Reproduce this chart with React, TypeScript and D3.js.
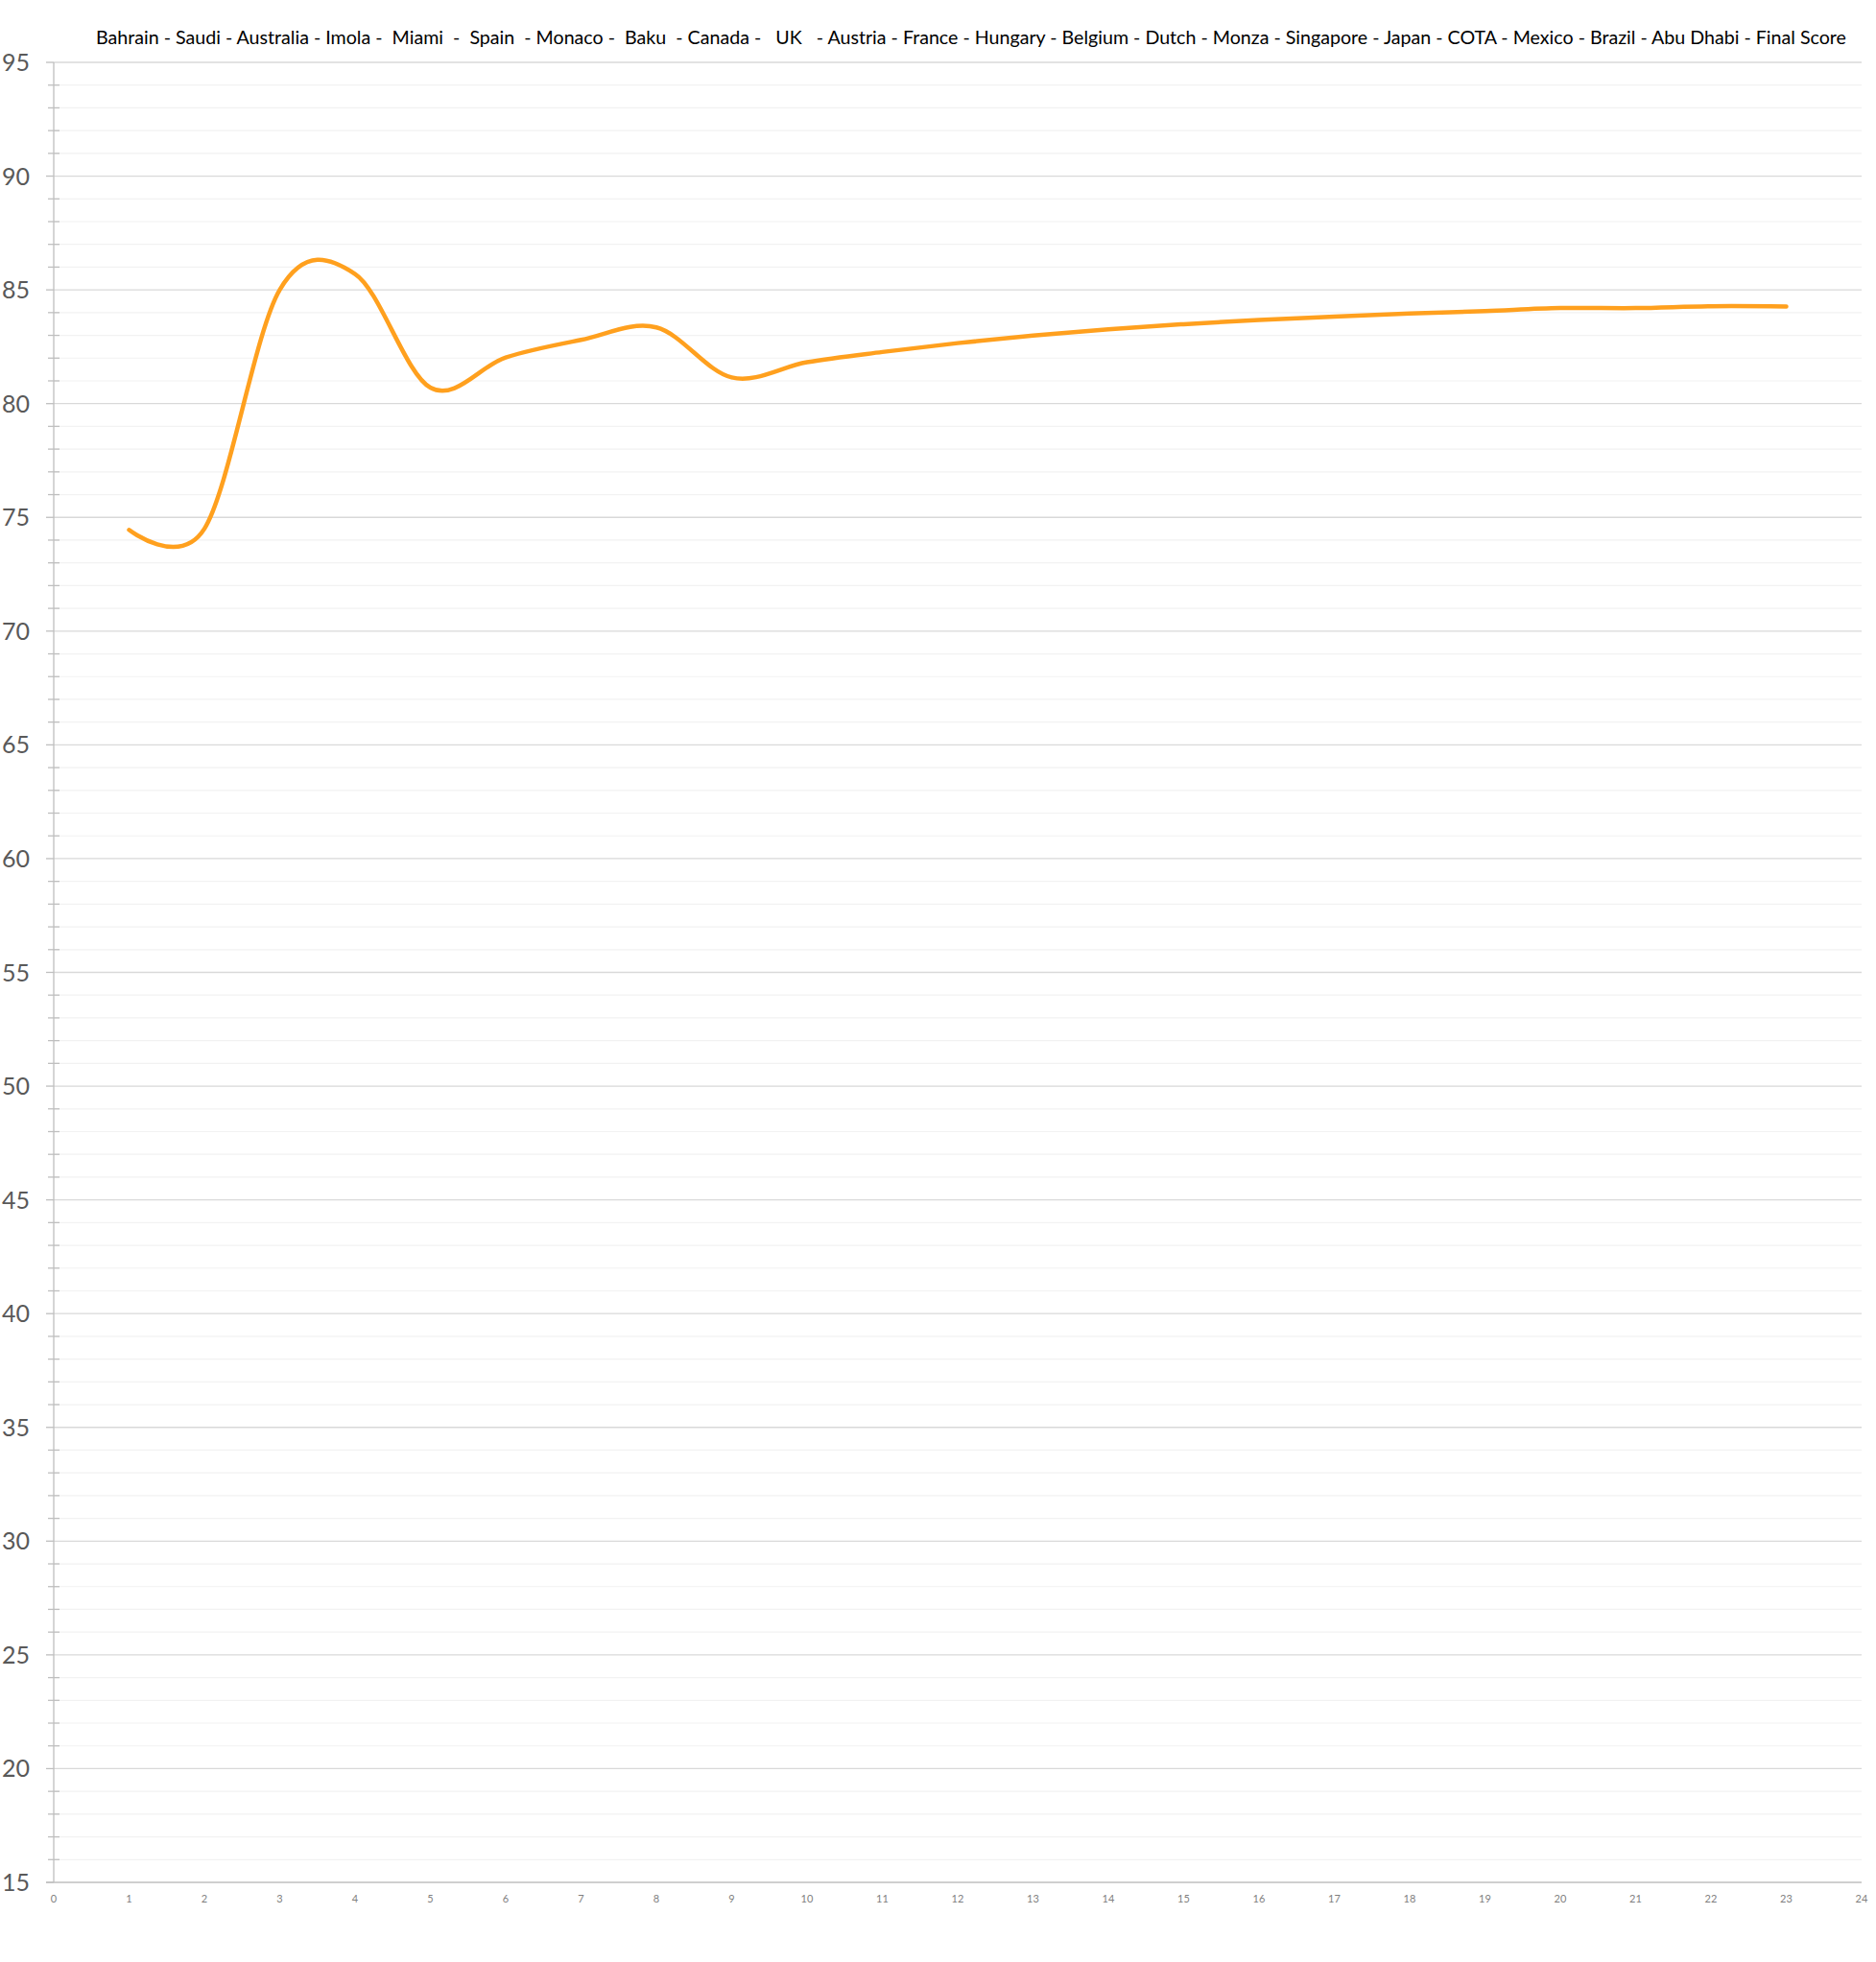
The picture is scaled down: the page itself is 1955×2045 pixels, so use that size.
import { useEffect, useRef } from 'react';
import * as d3 from 'd3';

// race index -> running score
const races = [1, 2, 3, 4, 5, 6, 7, 8, 9, 10, 11, 12, 13, 14, 15, 16, 17, 18, 19, 20, 21, 22, 23];
const scores = [
  74.45, 74.5, 85.0, 85.7, 80.7, 82.03, 82.8, 83.35, 81.15, 81.82, 82.27, 82.66,
  82.99, 83.27, 83.49, 83.68, 83.82, 83.96, 84.07, 84.2, 84.2, 84.28, 84.27,
];
const xTicks = d3.range(0, 25);
const yTicks = [15, 20, 25, 30, 35, 40, 45, 50, 55, 60, 65, 70, 75, 80, 85, 90, 95];
const title =
  'Bahrain - Saudi - Australia - Imola -  Miami  -  Spain  - Monaco -  Baku  - Canada -   UK   - Austria - France - Hungary - Belgium - Dutch - Monza - Singapore - Japan - COTA - Mexico - Brazil - Abu Dhabi - Final Score';

export default function App() {
  const svgRef = useRef<SVGSVGElement>(null);

  useEffect(() => {
    if (!svgRef.current) return;
    const svg = d3.select(svgRef.current);
    svg.selectAll('*').remove();

    const width = 1955;
    const height = 2045;
    const left = 56;
    const right = 1940;
    const top = 65;
    const bottom = 1962;
    const font = 'Lato, "Open Sans", sans-serif';

    svg.attr('width', width).attr('height', height).attr('viewBox', `0 0 ${width} ${height}`);

    const x = d3.scaleLinear().domain([0, 24]).range([left, right]);
    const y = d3.scaleLinear().domain([15, 95]).range([bottom, top]);

    // minor grid (every 1)
    const minor = d3.range(16, 95).filter(v => v % 5 !== 0);
    svg.append('g')
      .selectAll('line')
      .data(minor)
      .enter()
      .append('line')
      .attr('x1', left)
      .attr('x2', right)
      .attr('y1', d => y(d))
      .attr('y2', d => y(d))
      .attr('stroke', '#f2f2f2')
      .attr('stroke-width', 1.2);

    // major grid
    svg.append('g')
      .selectAll('line')
      .data(yTicks.filter(v => v !== 15))
      .enter()
      .append('line')
      .attr('x1', left)
      .attr('x2', right)
      .attr('y1', d => y(d))
      .attr('y2', d => y(d))
      .attr('stroke', '#d9d9d9')
      .attr('stroke-width', 1.3);

    // y axis line + ticks
    svg.append('line')
      .attr('x1', left).attr('x2', left)
      .attr('y1', top).attr('y2', bottom)
      .attr('stroke', '#bfbfbf').attr('stroke-width', 1.3);

    svg.append('g')
      .selectAll('line')
      .data(minor)
      .enter()
      .append('line')
      .attr('x1', left - 6)
      .attr('x2', left + 6)
      .attr('y1', d => y(d))
      .attr('y2', d => y(d))
      .attr('stroke', '#bfbfbf')
      .attr('stroke-width', 1.3);

    svg.append('g')
      .selectAll('line')
      .data(yTicks)
      .enter()
      .append('line')
      .attr('x1', left - 8)
      .attr('x2', left)
      .attr('y1', d => y(d))
      .attr('y2', d => y(d))
      .attr('stroke', '#bfbfbf')
      .attr('stroke-width', 1.3);

    // x axis line
    svg.append('line')
      .attr('x1', left - 8).attr('x2', right)
      .attr('y1', bottom).attr('y2', bottom)
      .attr('stroke', '#bfbfbf').attr('stroke-width', 1.5);

    // y labels
    svg.append('g')
      .selectAll('text')
      .data(yTicks)
      .enter()
      .append('text')
      .attr('x', 31)
      .attr('y', d => y(d))
      .attr('dy', '0.36em')
      .attr('text-anchor', 'end')
      .attr('fill', '#595959')
      .style('font-family', font)
      .style('font-size', '25px')
      .text(d => d);

    // x labels
    svg.append('g')
      .selectAll('text')
      .data(xTicks)
      .enter()
      .append('text')
      .attr('x', d => x(d))
      .attr('y', 1979)
      .attr('dy', '0.36em')
      .attr('text-anchor', 'middle')
      .attr('fill', '#7f7f7f')
      .style('font-family', font)
      .style('font-size', '11px')
      .text(d => d);

    // title - sized so it spans the same width as the original
    const titleText = svg.append('text')
      .attr('x', 100)
      .attr('y', 46)
      .attr('xml:space', 'preserve')
      .attr('fill', '#000')
      .style('white-space', 'pre')
      .style('font-family', font)
      .style('font-size', '20px')
      .text(title);
    const natural = (titleText.node() as SVGTextElement).getComputedTextLength();
    if (natural > 0) {
      titleText.style('font-size', `${Math.min(21, (20 * 1825) / natural).toFixed(2)}px`);
    }

    // score line
    const line = d3.line<number>()
      .x((_, i) => x(races[i]))
      .y(d => y(d))
      .curve(d3.curveCardinal.tension(0));

    svg.append('path')
      .datum(scores)
      .attr('d', line)
      .attr('fill', 'none')
      .attr('stroke', '#ffa01e')
      .attr('stroke-width', 4.5)
      .attr('stroke-linecap', 'round')
      .attr('stroke-linejoin', 'round');
  }, []);

  return (
    <div style={{ position: 'absolute', left: 0, top: 0, background: '#fff' }}>
      <svg ref={svgRef} style={{ display: 'block' }} />
    </div>
  );
}
